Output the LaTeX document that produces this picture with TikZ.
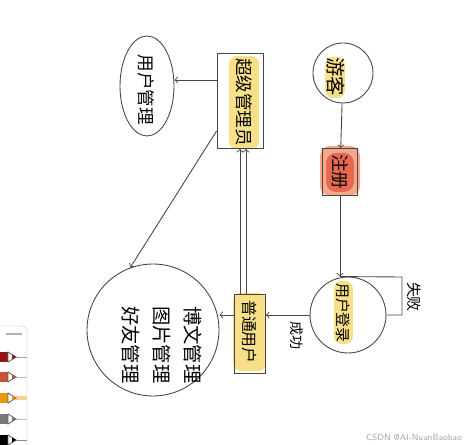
\documentclass[tikz,border=0pt]{standalone}
\usepackage{fontspec}
\newfontfamily\cjk{Noto Sans CJK SC}
\usetikzlibrary{shapes.geometric}
\definecolor{hlyellow}{RGB}{247,224,135}
\definecolor{regred}{RGB}{232,105,82}
\definecolor{regglow}{RGB}{244,168,140}
\definecolor{inkgray}{RGB}{70,70,70}
\definecolor{pena}{RGB}{150,22,22}
\definecolor{penb}{RGB}{200,82,52}
\definecolor{penc}{RGB}{232,150,10}
\definecolor{pend}{RGB}{120,120,120}
\tikzset{every node/.style={inner sep=0pt},
 ring/.style={circle,draw=inkgray},
 box/.style={draw=inkgray},
 word/.style={rotate=-90,font=\cjk\fontsize{10}{12}\selectfont},
 blob/.style={fill=hlyellow,rounded corners=0.15cm},
 link/.style={draw=inkgray,->},
 }

\begin{document}
\begin{tikzpicture}[x=0.02cm,y=-0.02cm,line width=0.5pt]
        \useasboundingbox (0,0) rectangle (474,445);
        % highlights
        \fill[blob] (229,56) rectangle (259,149);
        \fill[blob] (325,57) rectangle (345,98);
        \fill[blob] (334,281) rectangle (353,344);
        \fill[blob] (233,293) rectangle (266,371);
        \fill[regglow,rounded corners=0.2cm] (320,146) rectangle (360,196);
        \fill[regred,rounded corners=0.2cm] (326,153) rectangle (354,192);
        % shapes
        \node[ring,minimum size=1.2cm] (guest) at (343,73) {};
        \node[box,minimum width=0.7cm,minimum height=0.94cm] (reg) at (340,172) {};
        \node[ring,minimum size=1.52cm] (login) at (348,315) {};
        \node[box,minimum width=0.62cm,minimum height=1.58cm] (normal) at (250,334) {};
        \node[box,minimum width=0.92cm,minimum height=1.9cm] (admin) at (240,101) {};
        \node[ellipse,draw=inkgray,minimum width=1.08cm,minimum height=2cm] (usermgr) at (147,86) {};
        \node[ring,minimum size=2.64cm] (bigc) at (153,330) {};
        % texts
        \node[word] (usermgrt) at (146,90) {用户管理};
        \node[word] (admint) at (244,102) {超级管理员};
        \node[word,font=\cjk\fontsize{11}{12}\selectfont] (guestt) at (336,77) {游客};
        \node[word] (regt) at (340,172) {注册};
        \node[word,font=\cjk\fontsize{8.5}{10}\selectfont] (logint) at (343,313) {用户登录};
        \node[word,font=\cjk\fontsize{9}{11}\selectfont] (normalt) at (250,332) {普通用户};
        \node[word,align=left,font=\cjk\fontsize{11}{17.6}\selectfont] (bigct) at (162,345) {博文管理\\图片管理\\好友管理};
        % connectors
        \draw[link] (guest) -- (reg);
        \draw[link] (reg.south) -- (reg.south |- login.north);
        \coordinate (failc) at (402,277);
        \draw[draw=inkgray] (reg.south |- login.north) -- (failc) |- (login.east);
        \node[word,font=\cjk\fontsize{8.5}{10}\selectfont] (fail) at (414,297) {失败};
        \draw[link] (login.west) -- (login.west -| normal.east);
        \node[word,font=\cjk\fontsize{8}{10}\selectfont] (succ) at (297,336) {成功};
        \draw[link] (normal.west |- login.west) -- (bigc.east |- login.west);
        \draw[link] ([xshift=-0.2cm]normal.north) -- ([xshift=-0.2cm]normal.north |- admin.south);
        \draw[link] ([xshift=-0.08cm]normal.north) -- ([xshift=-0.08cm]normal.north |- admin.south);
        \draw[link] (admin.west |- 0,80) -- (usermgr.east |- 0,80);
        \draw[link] (admin.-128) -- (bigc.110);
        % pen palette
        \draw[black!12,fill=white,rounded corners=0.1cm] (-5,326) rectangle (27,452);
        \draw[black!30,line width=1pt] (6,334) -- (22,334);
        \foreach \c/\y/\w in {pena/357/0.4pt,penb/377/0.4pt,penc/398/2.5pt,pend/419/0.4pt,black/440/0.4pt} {
            \draw[\c!45,line width=\w] (15,\y) -- (27,\y);
            \fill[\c] (-1,\y-5) rectangle (8,\y+5);
            \draw[black!60,fill=white] (8,\y-5) -- (16,\y) -- (8,\y+5) -- cycle;
            \fill[\c] (12,\y-2.5) -- (16,\y) -- (12,\y+2.5) -- cycle;
        }
        \node[text=black!35,font=\sffamily\fontsize{5}{6}\selectfont] (wm) at (414,437) {CSDN @AI-NuanBaobao};
    \end{tikzpicture}
\end{document}
